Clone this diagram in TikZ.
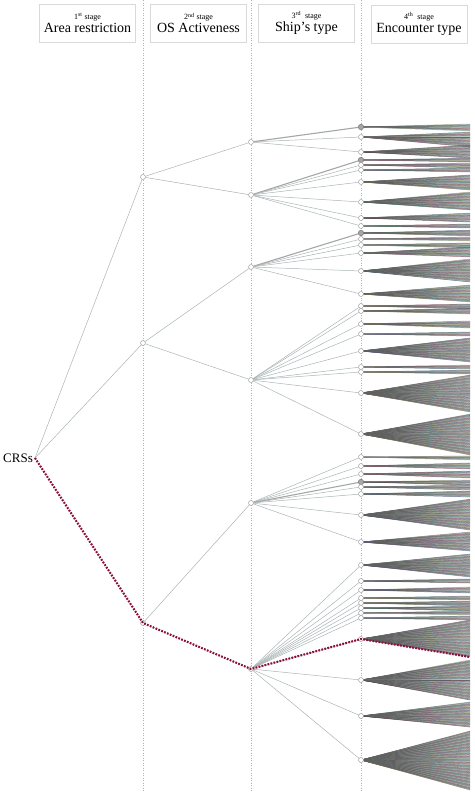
\documentclass[tikz,border=0pt]{standalone}
\usepackage{fontspec}
\setmainfont{Liberation Serif}
\usetikzlibrary{backgrounds}
\definecolor{linkgray}{RGB}{170,180,180}
\definecolor{guide}{RGB}{180,180,180}
\definecolor{redpath}{RGB}{140,15,55}
\definecolor{fc0}{RGB}{40,50,90}
\definecolor{fc1}{RGB}{130,120,50}
\definecolor{fc2}{RGB}{60,135,110}
\definecolor{fc3}{RGB}{160,85,95}
\definecolor{fc4}{RGB}{135,170,165}
\definecolor{fc5}{RGB}{105,75,130}
\definecolor{fc6}{RGB}{60,65,60}
\tikzset{
  hdr/.style={draw=black!15, fill=white, minimum width=96pt, minimum height=38pt, align=center, inner sep=0pt},
  guideline/.style={draw=guide, line width=0.6pt, dash pattern=on 1pt off 1.5pt},
  conn/.style={draw=linkgray, line width=0.5pt},
  dot/.style={circle, draw=black!40, fill=white, inner sep=0pt, minimum size=5pt, line width=0.45pt},
  cdot/.style={circle, draw=black!55, fill=black!35, inner sep=0pt, minimum size=5.5pt, line width=0.45pt},
  fanline/.style={line width=0.5pt, opacity=0.65},
  redline/.style={draw=redpath, line width=2.1pt, dash pattern=on 1.8pt off 1.3pt}
}
\begin{document}
\begin{tikzpicture}[x=1pt,y=-1pt]
\useasboundingbox (0,0) rectangle (474,795);
% guides
\foreach \gx in {143,251,361}{\draw[guideline] (\gx,0) -- (\gx,791);}
% headers
\node[hdr] (h1) at (87.5,23) {{\fontsize{8}{9}\selectfont 1\textsuperscript{st} stage}\\[1pt]{\fontsize{14}{16}\selectfont Area restriction}};
\node[hdr] (h2) at (198.5,23) {{\fontsize{8}{9}\selectfont 2\textsuperscript{nd} stage}\\[1pt]{\fontsize{14}{16}\selectfont OS Activeness}};
\node[hdr] (h3) at (306.5,23) {{\fontsize{8}{9}\selectfont 3\textsuperscript{rd}\ \ stage}\\[1pt]{\fontsize{14}{16}\selectfont Ship's type}};
\node[hdr] (h4) at (419,24) {{\fontsize{8}{9}\selectfont 4\textsuperscript{th}\ \ stage}\\[1pt]{\fontsize{14}{16}\selectfont Encounter type}};
% root
\node[inner sep=0pt, minimum size=1.5pt, fill=black!60, circle] (root) at (35,458) {};
\node[anchor=east, inner sep=1pt, font=\fontsize{13}{15}\selectfont] (crs) at (root.west) {CRSs};
% stage 2
\node[dot] (s1) at (143,177) {};
\node[dot] (s2) at (143,343) {};
\node[dot] (s3) at (143,623) {};
% stage 3
\node[dot] (a) at (251,142) {};
\node[dot] (b) at (251,195) {};
\node[dot] (c) at (251,267) {};
\node[dot] (d) at (251,380) {};
\node[dot] (e) at (251,503) {};
\node[dot] (f) at (251,669) {};
\begin{pgfonlayer}{background}
\draw[conn] (root) -- (s1);
\draw[conn] (root) -- (s2);
\draw[conn] (s1) -- (a);
\draw[conn] (s1) -- (b);
\draw[conn] (s2) -- (c);
\draw[conn] (s2) -- (d);
\draw[conn] (s3) -- (e);
\end{pgfonlayer}
% stage 4
\foreach \n/\y/\t/\b/\p/\k in {
 1/127/124/131/a/1, 2/137/132/147/a/0, 3/152/145/158/a/0,
 4/160/158/162/b/1, 5/165/163/168/b/0, 6/170/168/172/b/0, 7/182/175/190/b/0, 8/202/192/210/b/0, 9/218/213/222/b/0, 10/226/224/228/b/0,
 11/233/230/236/c/1, 12/239/237/241/c/0, 13/245/243/248/c/0, 14/253/247/257/c/0, 15/271/259/282/c/0, 16/294/285/302/c/0,
 17/306/304/309/d/0, 18/311/308/314/d/0, 19/324/321/328/d/0, 20/334/332/336/d/0, 21/351/338/362/d/0, 22/367/365/369/d/0, 23/372/370/374/d/0, 24/393/375/412/d/0, 25/434/414/455/d/0,
 26/457/456/460/e/0, 27/466/463/469/e/0, 28/474/471/478/e/0, 29/482/480/485/e/1, 30/487/485/490/e/0, 31/494/491/497/e/0, 32/515/499/530/e/0, 33/542/532/551/e/0,
 34/565/554/577/f/0, 35/581/579/583/f/0, 36/590/587/593/f/0, 37/598/596/600/f/0, 38/603/601/606/f/0, 39/608/606/611/f/0, 40/613/611/615/f/0, 41/618/616/620/f/0, 42/639/620/657/f/0, 43/680/660/700/f/0, 44/716/702/727/f/0, 45/760/731/790/f/0}
{
  \ifnum\k=1 \node[cdot] (d\n) at (361,\y) {}; \else \node[dot] (d\n) at (361,\y) {}; \fi
  \begin{pgfonlayer}{background}
    \ifnum\k=1 \draw[conn, line width=1.1pt, draw=black!35] (\p) -- (d\n); \else \draw[conn] (\p) -- (d\n); \fi
    \pgfmathtruncatemacro\N{max(6,round((\b-\t)*2.2))}
    \foreach \i in {0,...,\N}{
      \pgfmathsetmacro\yy{\t+(\b-\t)*\i/\N}
      \pgfmathtruncatemacro\c{mod(\i*3+\n,7)}
      \draw[fanline, draw=fc\c] (d\n.center) -- (470,\yy);
    }
  \end{pgfonlayer}
}
% highlighted path
\coordinate (redend) at (470,657);
\draw[redline] (root.center) -- (s3.center) -- (f.center) -- (d42.center) -- (redend);
\end{tikzpicture}
\end{document}
